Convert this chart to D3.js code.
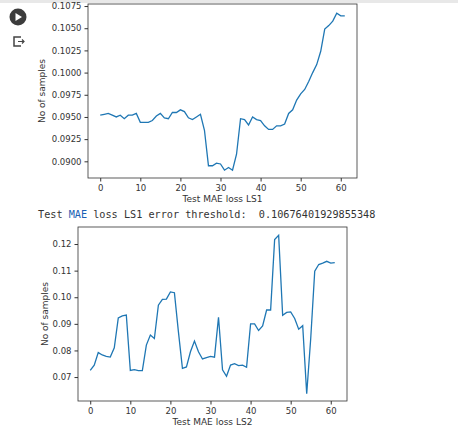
<!DOCTYPE html>
<html><head><meta charset="utf-8">
<script src="https://cdn.jsdelivr.net/npm/d3@7"></script>
<style>
body{margin:0;background:#fff;}
svg text{font-family:"DejaVu Sans",sans-serif;fill:#333;}
.mono{font-family:"DejaVu Sans Mono",monospace;font-size:10.2px;white-space:pre;}
</style></head><body>
<svg width="458" height="434"></svg>
<script>
var ls1 = [0.0952,0.0953,0.0954,0.0952,0.0950,0.0952,0.0948,0.0952,0.0952,0.0954,
  0.0944,0.0944,0.0944,0.0946,0.0951,0.0954,0.0949,0.0948,0.0955,0.0955,
  0.0958,0.0956,0.0949,0.0947,0.0950,0.0953,0.0935,0.0895,0.0895,0.0898,
  0.0897,0.0890,0.0893,0.0890,0.0908,0.0948,0.0947,0.0941,0.0950,0.0947,
  0.0946,0.0940,0.0936,0.0936,0.0940,0.0940,0.0942,0.0954,0.0958,0.0969,
  0.0976,0.0981,0.0990,0.1000,0.1009,0.1024,0.1049,0.1053,0.1058,0.1067,
  0.1064,0.1064]
var ls2 = [0.0725,0.0745,0.0792,0.0783,0.0778,0.0775,0.0810,0.0922,0.0930,0.0933,
  0.0725,0.0728,0.0724,0.0724,0.0820,0.0858,0.0845,0.0970,0.0992,0.0993,
  0.1020,0.1017,0.0870,0.0733,0.0738,0.0795,0.0835,0.0795,0.0768,0.0773,
  0.0778,0.0775,0.0925,0.0727,0.0703,0.0745,0.0750,0.0743,0.0745,0.0737,
  0.0900,0.0900,0.0875,0.0892,0.0952,0.0952,0.1217,0.1233,0.0932,0.0943,
  0.0945,0.0920,0.0880,0.0893,0.0637,0.0845,0.1098,0.1123,0.1128,0.1135,
  0.1128,0.1130]
var xTicks = [0,10,20,30,40,50,60]
var y1Ticks = [0.0900,0.0925,0.0950,0.0975,0.1000,0.1025,0.1050,0.1075]
var y2Ticks = [0.07,0.08,0.09,0.10,0.11,0.12]

var svg = d3.select('svg')
// colab chrome
svg.append('rect').attr('x',0).attr('y',0).attr('width',458).attr('height',3).attr('fill','#e8e8e8')
svg.append('circle').attr('cx',18).attr('cy',17).attr('r',8.5).attr('fill','#3c3c3c')
svg.append('path').attr('d','M15.5,13 L22,17 L15.5,21 Z').attr('fill','#fff')
svg.append('path').attr('d','M21,37 L14,37 L14,46 L21,46').attr('fill','none').attr('stroke','#444').attr('stroke-width',1.5)
svg.append('path').attr('d','M18,41.5 L24,41.5 M22,39.5 L24,41.5 L22,43.5').attr('fill','none').attr('stroke','#444').attr('stroke-width',1.2)

function chart(data, box, ydom, yticks, yfmt, xlabel, ylabX){
  var x = d3.scaleLinear().domain([-3.05,64.05]).range([box.l,box.r])
  var y = d3.scaleLinear().domain(ydom).range([box.b,box.t])
  var g = svg.append('g')
  g.append('g').attr('transform','translate(0,'+box.b+')')
    .call(d3.axisBottom(x).tickValues(xTicks).tickSize(3.5).tickPadding(3).tickFormat(d3.format('d')))
  g.append('g').attr('transform','translate('+box.l+',0)')
    .call(d3.axisLeft(y).tickValues(yticks).tickSize(3.5).tickPadding(3).tickFormat(d3.format(yfmt)))
  g.selectAll('.domain').remove()
  g.selectAll('.tick line').attr('stroke','#333')
  g.selectAll('.tick text').attr('font-size',8.5).attr('fill','#333')
  g.append('rect').attr('x',box.l).attr('y',box.t).attr('width',box.r-box.l).attr('height',box.b-box.t)
    .attr('fill','none').attr('stroke','#333').attr('stroke-width',0.8)
  g.append('path').datum(data)
    .attr('d',d3.line().x(function(d,i){return x(i)}).y(function(d){return y(d)}))
    .attr('fill','none').attr('stroke','#1f77b4').attr('stroke-width',1.3)
  g.append('text').attr('x',(box.l+box.r)/2).attr('y',box.b+24).attr('text-anchor','middle')
    .attr('font-size',9).text(xlabel)
  g.append('text').attr('transform','translate('+ylabX+','+((box.t+box.b)/2)+') rotate(-90)')
    .attr('text-anchor','middle').attr('font-size',9).text('No of samples')
}
chart(ls1,{l:88,r:357,t:4,b:178},[0.08812,0.10773],y1Ticks,'.4f','Test MAE loss LS1',45)
chart(ls2,{l:78,r:347,t:227,b:401},[0.0610,0.1264],y2Ticks,'.2f','Test MAE loss LS2',48)

var t = svg.append('text').attr('class','mono').attr('x',38).attr('y',218)
t.append('tspan').text('Test ')
t.append('tspan').attr('fill','#1a5fb4').text('MAE')
t.append('tspan').text(' loss LS1 error threshold:  0.10676401929855348')
</script></body></html>
